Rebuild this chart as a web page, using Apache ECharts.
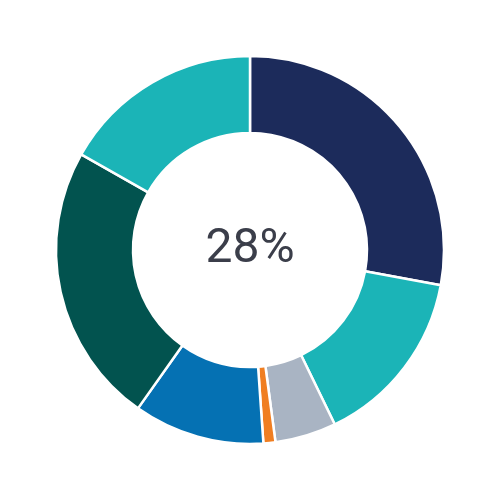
<!DOCTYPE html>
<html><head><meta charset="utf-8">
<script src="https://cdn.jsdelivr.net/npm/echarts@6/dist/echarts.min.js"></script>
<style>html,body{margin:0;padding:0;background:#fff}#c{width:500px;height:500px}</style>
</head><body><div id="c"></div>
<script>
const categories = ['A','B','C','D','E','F','G'];
const values = [27.9, 14.9, 5.1, 1.0, 10.9, 23.4, 16.8];
const colors = ['#1c2b5b','#1bb4b7','#a9b4c3','#f07e21','#0571b3','#02534f','#1bb4b7'];
const centerLabel = '28%';
const chart = echarts.init(document.getElementById('c'));
chart.setOption({
  animation:false,
  title:{text:centerLabel,left:'center',top:'center',textStyle:{fontFamily:'Roboto',fontSize:48,fontWeight:'normal',color:'#3b3e4a'}},
  series:[{type:'pie',radius:[117,194],center:[250,250],startAngle:90,clockwise:true,
    label:{show:false},labelLine:{show:false},
    itemStyle:{borderColor:'#fff',borderWidth:2.5},
    data:categories.map((c,i)=>({name:c,value:values[i],itemStyle:{color:colors[i]}}))}]
});
</script></body></html>
